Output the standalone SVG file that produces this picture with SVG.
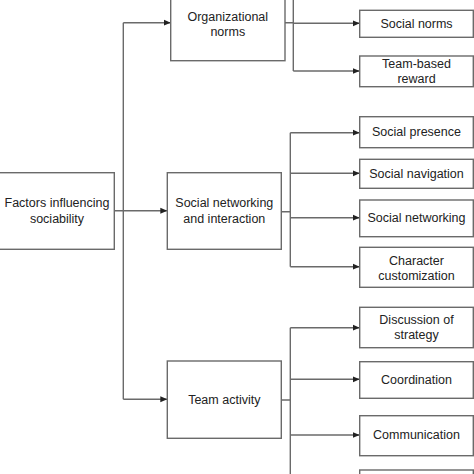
<svg xmlns="http://www.w3.org/2000/svg" width="474" height="474" viewBox="0 0 474 474">
<style>
.box{fill:#fff;stroke:#6a6a6a;stroke-width:1.4}
.ln{fill:none;stroke:#6a6a6a;stroke-width:1.4}
text{font-family:"Liberation Sans",Arial,sans-serif;font-size:12.5px;fill:#222;text-anchor:middle;dominant-baseline:central}
</style>
<defs>
<marker id="ah" markerUnits="userSpaceOnUse" markerWidth="8" markerHeight="8" refX="7" refY="4" orient="auto">
<path d="M0,1 L7,4 L0,7 Z" fill="#222"/>
</marker>
</defs>
<rect width="474" height="474" fill="#fff"/>
<g id="connectors">
<path class="ln" d="M123.3,22.7 V399.3"/>
<path class="ln" d="M123.3,22.7 H170.7" marker-end="url(#ah)"/>
<path class="ln" d="M114.3,210.7 H167.3" marker-end="url(#ah)"/>
<path class="ln" d="M123.3,399.3 H167.3" marker-end="url(#ah)"/>
<path class="ln" d="M285,22.7 H293.3 M293.3,-5 V71"/>
<path class="ln" d="M293.3,23.3 H359.7" marker-end="url(#ah)"/>
<path class="ln" d="M293.3,71 H359.7" marker-end="url(#ah)"/>
<path class="ln" d="M281.3,211.7 H290.3 M290.3,132.7 V266.7"/>
<path class="ln" d="M290.3,132.7 H359.7" marker-end="url(#ah)"/>
<path class="ln" d="M290.3,173.3 H359.7" marker-end="url(#ah)"/>
<path class="ln" d="M290.3,217.7 H359.7" marker-end="url(#ah)"/>
<path class="ln" d="M290.3,266.7 H359.7" marker-end="url(#ah)"/>
<path class="ln" d="M281.3,400 H290.3 M290.3,327.7 V480"/>
<path class="ln" d="M290.3,327.7 H359.7" marker-end="url(#ah)"/>
<path class="ln" d="M290.3,379.3 H359.7" marker-end="url(#ah)"/>
<path class="ln" d="M290.3,435 H359.7" marker-end="url(#ah)"/>
</g>
<g id="factors"><rect class="box" x="-1" y="172.7" width="115.3" height="76.6"/><text x="57" y="203.3">Factors influencing</text><text x="57" y="218.8">sociability</text></g>
<g id="org"><rect class="box" x="170.7" y="-15" width="114.3" height="75.7"/><text x="227.8" y="16.7">Organizational</text><text x="227.8" y="32.3">norms</text></g>
<g id="social"><rect class="box" x="167.3" y="172.7" width="114" height="76.6"/><text x="224.3" y="203.3">Social networking</text><text x="224.3" y="218.8">and interaction</text></g>
<g id="team"><rect class="box" x="167.3" y="361" width="114" height="77.3"/><text x="224.3" y="400">Team activity</text></g>
<g id="socialnorms"><rect class="box" x="359.7" y="10.3" width="113.6" height="27"/><text x="416.5" y="23.8">Social norms</text></g>
<g id="reward"><rect class="box" x="359.7" y="56" width="113.6" height="30.7"/><text x="416.5" y="63.5">Team-based</text><text x="416.5" y="79">reward</text></g>
<g id="presence"><rect class="box" x="359.7" y="116.7" width="113.6" height="31"/><text x="416.5" y="131.7">Social presence</text></g>
<g id="navigation"><rect class="box" x="359.7" y="159.3" width="113.6" height="29"/><text x="416.5" y="173.5">Social navigation</text></g>
<g id="networking"><rect class="box" x="359.7" y="200" width="113.6" height="36.7"/><text x="416.5" y="217.8">Social networking</text></g>
<g id="character"><rect class="box" x="359.7" y="247.3" width="113.6" height="40"/><text x="416.5" y="260.7">Character</text><text x="416.5" y="275.8">customization</text></g>
<g id="strategy"><rect class="box" x="359.7" y="307.3" width="113.6" height="40.4"/><text x="416.5" y="319.5">Discussion of</text><text x="416.5" y="334.5">strategy</text></g>
<g id="coordination"><rect class="box" x="359.7" y="361.7" width="113.6" height="36.6"/><text x="416.5" y="379.5">Coordination</text></g>
<g id="communication"><rect class="box" x="359.7" y="415.7" width="113.6" height="40"/><text x="416.5" y="435.2">Communication</text></g>
<g id="bottom"><rect class="box" x="359.7" y="470" width="113.6" height="30"/></g>
</svg>
